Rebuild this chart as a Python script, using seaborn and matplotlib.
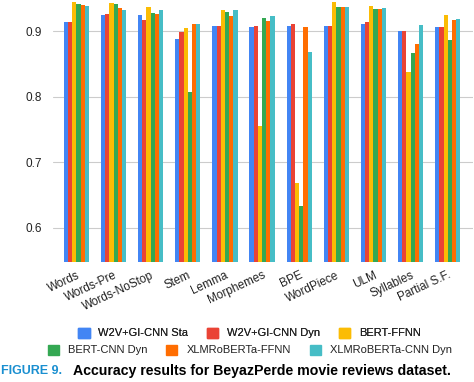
import pandas as pd
import matplotlib
matplotlib.use("Agg")
import matplotlib.pyplot as plt
import matplotlib.patches as mpatches
import seaborn as sns

categories = ["Words", "Words-Pre", "Words-NoStop", "Stem", "Lemma", "Morphemes",
              "BPE", "WordPiece", "ULM", "Syllables", "Partial S.F."]
models = ["W2V+GI-CNN Sta", "W2V+GI-CNN Dyn", "BERT-FFNN",
          "BERT-CNN Dyn", "XLMRoBERTa-FFNN", "XLMRoBERTa-CNN Dyn"]
colors = ["#4285F4", "#EA4335", "#FBBC04", "#34A853", "#FF6D01", "#46BDC6"]

w2v_sta = [0.915, 0.9245, 0.925, 0.889, 0.908, 0.906, 0.908, 0.909, 0.912, 0.900, 0.906]
w2v_dyn = [0.915, 0.927, 0.917, 0.899, 0.908, 0.908, 0.911, 0.909, 0.915, 0.900, 0.906]
bert_ffnn = [0.945, 0.9435, 0.937, 0.905, 0.933, 0.755, 0.668, 0.9445, 0.939, 0.838, 0.9245]
bert_cnn = [0.942, 0.9425, 0.928, 0.807, 0.929, 0.920, 0.633, 0.937, 0.934, 0.867, 0.887]
xlmr_ffnn = [0.940, 0.936, 0.927, 0.911, 0.924, 0.9165, 0.906, 0.937, 0.934, 0.881, 0.917]
xlmr_cnn = [0.939, 0.933, 0.933, 0.912, 0.932, 0.923, 0.869, 0.937, 0.936, 0.910, 0.919]

series = [w2v_sta, w2v_dyn, bert_ffnn, bert_cnn, xlmr_ffnn, xlmr_cnn]
rows = []
for m, vals in zip(models, series):
    for c, v in zip(categories, vals):
        rows.append({"Tokenization": c, "Model": m, "Accuracy": v})
df = pd.DataFrame(rows)

sns.set_style("white")
plt.rcParams["font.family"] = ["Liberation Sans", "DejaVu Sans"]

fig = plt.figure(figsize=(4.74, 3.82), dpi=100)
ax = fig.add_axes([53 / 474, 1 - 262.3 / 382, 420 / 474, 262.3 / 382])

sns.barplot(data=df, x="Tokenization", y="Accuracy", hue="Model",
            hue_order=models, palette=colors, width=0.68, gap=0,
            saturation=1, linewidth=0, ax=ax, legend=False)

ax.set_ylim(0.547, 0.948)
ax.set_xlim(-0.63, 10.68)
ax.set_yticks([0.6, 0.7, 0.8, 0.9])
ax.set_yticklabels(["0.6", "0.7", "0.8", "0.9"])
ax.yaxis.grid(True, color="#cccccc", linewidth=0.8)
ax.set_axisbelow(True)
for s in ax.spines.values():
    s.set_visible(False)
ax.set_xlabel("")
ax.set_ylabel("")
ax.tick_params(axis="y", labelsize=8.5, length=0, pad=8, labelcolor="#222222")
ax.tick_params(axis="x", labelsize=8.5, length=0, pad=5, labelcolor="#222222")
plt.setp(ax.get_xticklabels(), rotation=25, ha="right", rotation_mode="anchor")

handles = [mpatches.Patch(color=c, label=m) for m, c in zip(models, colors)]
leg_kw = dict(loc="center", ncol=3, frameon=False, fontsize=8, handlelength=1.0,
              handleheight=1.0, columnspacing=1.7, handletextpad=0.8, borderpad=0,
              labelcolor="#222222")
leg1 = fig.legend(handles=handles[:3], bbox_to_anchor=(0.527, 1 - 333 / 382), **leg_kw)
fig.add_artist(leg1)
fig.legend(handles=handles[3:], bbox_to_anchor=(0.527, 1 - 350 / 382), **leg_kw)

t1 = fig.text(1 / 474, 1 - 371 / 382, "FIGURE 9.", color="#1a8fd0", fontsize=9,
              fontweight="bold", va="center", ha="left")
fig.canvas.draw()
bb = t1.get_window_extent()
fig.text((bb.x1 + 11) / 474, 1 - 371 / 382,
         "Accuracy results for BeyazPerde movie reviews dataset.", color="black",
         fontsize=10.2, fontweight="bold", va="center", ha="left")

fig.savefig("out.png", dpi=100)
